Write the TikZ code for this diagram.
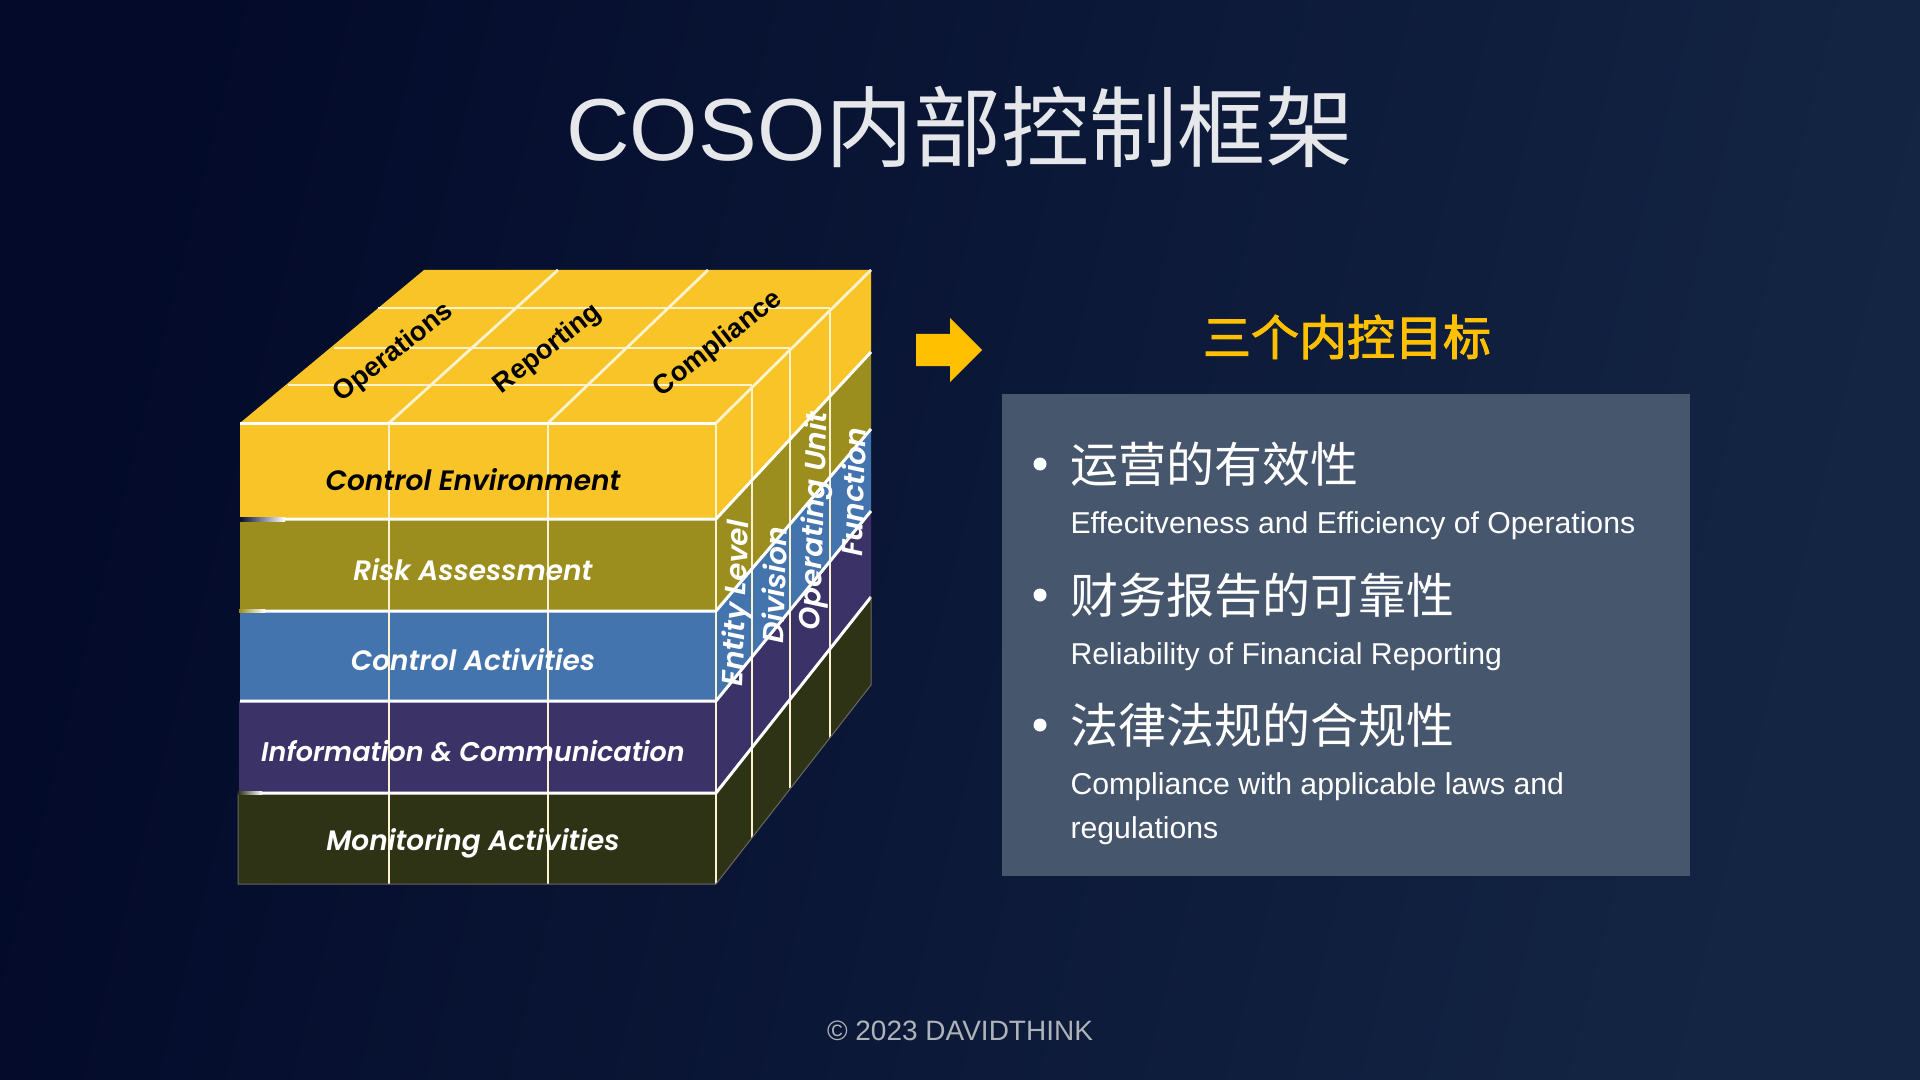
\documentclass[tikz,border=0pt]{standalone}
\usepackage{fontspec}
\setmainfont{Liberation Sans}
\newfontfamily\cjk{Noto Sans CJK SC}
\newfontfamily\cjkmed{Noto Sans CJK SC}[FakeBold=2]
\newfontfamily\cubefont{Poppins SemiBold Italic}
\usetikzlibrary{positioning}
\definecolor{bgleft}{HTML}{030A2A}
\definecolor{bgmid}{HTML}{0D1A39}
\definecolor{bgright}{HTML}{142544}
\definecolor{envcol}{HTML}{F9C427}
\definecolor{riskcol}{HTML}{9B8E1F}
\definecolor{actcol}{HTML}{4474AD}
\definecolor{infocol}{HTML}{3B3268}
\definecolor{moncol}{HTML}{2E3316}
\definecolor{gridcol}{HTML}{FBF3D0}
\definecolor{boxcol}{HTML}{46566C}
\definecolor{goalcol}{HTML}{FFC000}
\definecolor{titlecol}{HTML}{E5E7EB}
\definecolor{footcol}{HTML}{AEB3BA}
\tikzset{
  gridline/.style={gridcol, line width=1.4pt},
  bandline/.style={white, line width=1.5pt},
  edgeline/.style={color=gray!70!moncol, line width=0.5pt},
  bandlabel/.style={font=\cubefont\fontsize{14}{16}\selectfont, text=white, text height=10pt, text depth=3pt},
  toplabel/.style={font=\bfseries\fontsize{13.6}{17}\selectfont, text=black, rotate=38},
  sidelabel/.style={font=\cubefont\fontsize{14.6}{16}\selectfont, text=white, rotate=88},
  goalhead/.style={anchor=west, font=\cjk\fontsize{24}{28}\selectfont, text=white},
  goalsub/.style={anchor=west, font=\fontsize{15.1}{18}\selectfont, text=white},
  dotmark/.style={circle, fill=white, inner sep=0pt, minimum size=6.5pt}
}
\begin{document}
\begin{tikzpicture}[x=0.5pt,y=-0.5pt]
\useasboundingbox (0,0) rectangle (1920,1080);
\shade[left color=bgleft, middle color=bgmid, right color=bgright, shading angle=76] (0,0) rectangle (1920,1080);

\fill[envcol] (424,270) -- (871,270) -- (716,423) -- (240,423) -- cycle;
\fill[envcol] (240,423) rectangle (716,519);
\fill[riskcol] (240,519) rectangle (716,611);
\fill[actcol] (240,611) rectangle (716,701);
\fill[infocol] (239,701) rectangle (716,793);
\fill[moncol] (238,793) rectangle (716,884);
\fill[envcol] (716,423) -- (871,270) -- (871,352) -- (716,519) -- cycle;
\fill[riskcol] (716,519) -- (871,352) -- (871,429) -- (716,611) -- cycle;
\fill[actcol] (716,611) -- (871,429) -- (871,511) -- (716,701) -- cycle;
\fill[infocol] (716,701) -- (871,511) -- (871,597) -- (716,793) -- cycle;
\fill[moncol] (716,793) -- (871,597) -- (871,685) -- (716,884) -- cycle;

\draw[gridline] (378,308) -- (830,308);
\draw[gridline] (334,348) -- (790,348);
\draw[gridline] (288,385) -- (752,385);
\draw[gridline] (389,423) -- (558,270);
\draw[gridline] (548,423) -- (708,270);
\draw[gridline] (716,423) -- (871,270);
\draw[gridline] (389,423) -- (389,884);
\draw[gridline] (548,423) -- (548,884);
\draw[gridline] (716,423) -- (716,884);
\draw[gridline] (752,385) -- (752,838);
\draw[gridline] (790,348) -- (790,788);
\draw[gridline] (830,308) -- (830,738);
\draw[bandline] (240,423) -- (716,423);
\draw[bandline] (240,519) -- (716,519) -- (871,352);
\draw[bandline] (240,611) -- (716,611) -- (871,429);
\draw[bandline] (240,701) -- (716,701) -- (871,511);
\draw[bandline] (240,793) -- (716,793) -- (871,597);
\draw[edgeline] (238,793) -- (238,884) -- (716,884) -- (871,685) -- (871,597);
\shade[left color=bgleft, right color=white] (239,517) rectangle (285,521);
\shade[left color=riskcol, right color=white] (239,609.5) rectangle (265,612.5);
\shade[left color=moncol, right color=white] (238,791.5) rectangle (262,794.5);

\node[bandlabel, text=black] (env) at (473,483) {Control Environment};
\node[bandlabel] (risk) at (473,573) {Risk Assessment};
\node[bandlabel] (act) at (473,663) {Control Activities};
\node[bandlabel, font=\cubefont\fontsize{13.5}{16}\selectfont] (info) at (473,754) {Information \& Communication};
\node[bandlabel] (mon) at (473,843) {Monitoring Activities};

\node[toplabel] (ops) at (394,353) {Operations};
\node[toplabel] (rep) at (548,349) {Reporting};
\node[toplabel] (comp) at (718,344) {Compliance};

\node[sidelabel] (entity) at (738,603) {Entity Level};
\node[sidelabel] (division) at (774,585) {Division};
\node[sidelabel] (unit) at (816,521) {Operating Unit};
\node[sidelabel] (func) at (853,492) {Function};

\node[font=\fontsize{44}{50}\selectfont, text=titlecol] (title) at (960,127) {COSO{\cjk 内部控制框架}};

\fill[goalcol] (916,334) -- (950,334) -- (950,318) -- (982,350) -- (950,382) -- (950,366) -- (916,366) -- cycle;
\node[font=\cjkmed\fontsize{24}{28}\selectfont, text=goalcol] (goal) at (1347,337) {三个内控目标};

\fill[boxcol] (1002,394) rectangle (1690,875.5);
\node[dotmark] (dota) at (1040,464) {};
\node[goalhead] (heada) at (1063.5,464) {运营的有效性};
\node[goalsub] (suba) at (1063.5,526) {Effecitveness and Efficiency of Operations};
\node[dotmark] (dotb) at (1040,595) {};
\node[goalhead] (headb) at (1063.5,595) {财务报告的可靠性};
\node[goalsub] (subb) at (1063.5,656.5) {Reliability of Financial Reporting};
\node[dotmark] (dotc) at (1040,725) {};
\node[goalhead] (headc) at (1063.5,725) {法律法规的合规性};
\node[goalsub] (subc) at (1063.5,786.5) {Compliance with applicable laws and};
\node[goalsub] (subd) at (1063.5,830.5) {regulations};

\node[font=\fontsize{14}{17}\selectfont, text=footcol] (foot) at (960,1031) {© 2023 DAVIDTHINK};
\end{tikzpicture}
\end{document}
